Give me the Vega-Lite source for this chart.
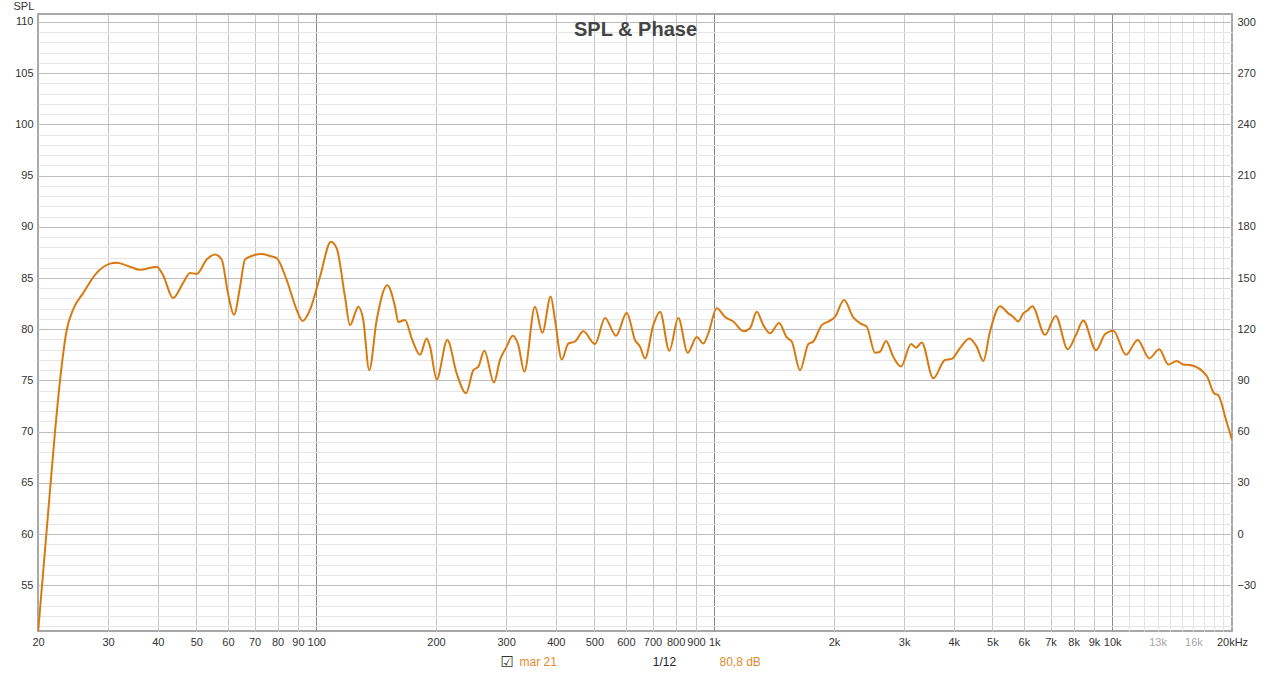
{
  "$schema": "https://vega.github.io/schema/vega-lite/v6.json",
  "width": 1194,
  "height": 617,
  "autosize": {"type": "none"},
  "padding": {"left": 38, "top": 14, "right": 48, "bottom": 43},
  "background": "white",
  "config": {
    "view": {"stroke": "#a8a8a8", "strokeWidth": 2},
    "axis": {"domain": false, "ticks": false, "labelFont": "Liberation Sans", "labelFontSize": 11, "labelColor": "#333333", "titleFont": "Liberation Sans", "titleFontWeight": "normal", "titleFontSize": 11, "gridWidth": 1}
  },
  "data": {"values": [
    {"f":20,"spl":50.3},{"f":20.23,"spl":52.6},{"f":21.2,"spl":62.0},{"f":22.07,"spl":70.0},{"f":22.72,"spl":75.0},{"f":23.61,"spl":79.9},{"f":24.49,"spl":81.9},{"f":25.95,"spl":83.5},{"f":28.09,"spl":85.5},{"f":30.33,"spl":86.4},{"f":31.52,"spl":86.5},{"f":34.05,"spl":86.1},{"f":36.08,"spl":85.8},{"f":39.74,"spl":86.1},{"f":41.22,"spl":85.3},{"f":43.68,"spl":83.05},{"f":46.28,"spl":84.5},{"f":48.19,"spl":85.5},{"f":50.09,"spl":85.4},{"f":53.07,"spl":86.8},{"f":55.68,"spl":87.3},{"f":57.88,"spl":86.8},{"f":60.03,"spl":83.5},{"f":62.15,"spl":81.4},{"f":64.35,"spl":84.1},{"f":66.23,"spl":86.8},{"f":68.85,"spl":87.15},{"f":72.96,"spl":87.35},{"f":76.54,"spl":87.15},{"f":79.56,"spl":86.95},{"f":84.32,"spl":84.8},{"f":89.34,"spl":81.9},{"f":92.5,"spl":80.8},{"f":96.49,"spl":81.9},{"f":102.2,"spl":85.1},{"f":108.9,"spl":88.55},{"f":112.6,"spl":87.9},{"f":118.1,"spl":83.2},{"f":121.6,"spl":80.4},{"f":127.6,"spl":82.2},{"f":131.3,"spl":80.9},{"f":135.9,"spl":76.0},{"f":141.9,"spl":80.9},{"f":150.9,"spl":84.3},{"f":157.8,"spl":82.2},{"f":160.8,"spl":80.7},{"f":167.2,"spl":80.9},{"f":173.8,"spl":79.1},{"f":182.3,"spl":77.5},{"f":189.5,"spl":79.1},{"f":193.2,"spl":78.3},{"f":200.8,"spl":75.1},{"f":213.5,"spl":78.95},{"f":225.4,"spl":75.7},{"f":237.9,"spl":73.75},{"f":248.2,"spl":76.0},{"f":255.5,"spl":76.35},{"f":264.5,"spl":77.9},{"f":279.7,"spl":74.8},{"f":289.6,"spl":77.0},{"f":301,"spl":78.3},{"f":311.7,"spl":79.35},{"f":322,"spl":78.45},{"f":333.4,"spl":75.85},{"f":354.6,"spl":82.2},{"f":370,"spl":79.65},{"f":388.4,"spl":83.2},{"f":398.2,"spl":80.9},{"f":414,"spl":77.05},{"f":430,"spl":78.6},{"f":447.1,"spl":78.8},{"f":469,"spl":79.8},{"f":501.9,"spl":78.55},{"f":531.7,"spl":81.1},{"f":566.7,"spl":79.35},{"f":602.9,"spl":81.6},{"f":632.5,"spl":78.95},{"f":651.1,"spl":78.3},{"f":670.2,"spl":77.15},{"f":703.2,"spl":80.4},{"f":731,"spl":81.7},{"f":771.4,"spl":77.9},{"f":812.6,"spl":81.1},{"f":858,"spl":77.7},{"f":903.9,"spl":79.25},{"f":939,"spl":78.6},{"f":966.6,"spl":79.6},{"f":1014.6,"spl":82.05},{"f":1064.6,"spl":81.2},{"f":1117,"spl":80.75},{"f":1183.6,"spl":79.8},{"f":1230.3,"spl":80.1},{"f":1279,"spl":81.7},{"f":1328.7,"spl":80.4},{"f":1381,"spl":79.6},{"f":1455.3,"spl":80.6},{"f":1521.6,"spl":79.2},{"f":1566.3,"spl":78.8},{"f":1643.3,"spl":76.0},{"f":1724,"spl":78.55},{"f":1774.6,"spl":78.8},{"f":1862.9,"spl":80.4},{"f":1935.4,"spl":80.75},{"f":2011.9,"spl":81.2},{"f":2119.4,"spl":82.85},{"f":2236.5,"spl":81.15},{"f":2348,"spl":80.5},{"f":2416.8,"spl":80.25},{"f":2535.7,"spl":77.7},{"f":2610,"spl":77.8},{"f":2702,"spl":78.85},{"f":2818.5,"spl":77.3},{"f":2947,"spl":76.35},{"f":3123,"spl":78.55},{"f":3214.6,"spl":78.2},{"f":3322,"spl":78.7},{"f":3552,"spl":75.2},{"f":3800,"spl":77.0},{"f":3950,"spl":77.1},{"f":4145,"spl":78.15},{"f":4374,"spl":79.1},{"f":4566,"spl":78.3},{"f":4744,"spl":76.9},{"f":4931,"spl":79.75},{"f":5225,"spl":82.25},{"f":5482,"spl":81.55},{"f":5643,"spl":81.2},{"f":5808,"spl":80.75},{"f":5979,"spl":81.55},{"f":6119,"spl":81.8},{"f":6298,"spl":82.25},{"f":6780,"spl":79.45},{"f":7212,"spl":81.3},{"f":7731,"spl":78.05},{"f":8111,"spl":79.45},{"f":8461,"spl":80.85},{"f":9105,"spl":77.95},{"f":9592,"spl":79.5},{"f":10064,"spl":79.85},{"f":10832,"spl":77.5},{"f":11589,"spl":78.95},{"f":12397,"spl":77.15},{"f":13134,"spl":78.05},{"f":13836,"spl":76.55},{"f":14526,"spl":76.9},{"f":15091,"spl":76.55},{"f":15686,"spl":76.5},{"f":17279,"spl":75.45},{"f":18025,"spl":73.75},{"f":18479,"spl":73.55},{"f":19320,"spl":71.15},{"f":20000,"spl":69.2}
  ]},
  "layer": [
    {
      "mark": {"type": "line", "opacity": 0},
      "encoding": {
        "x": {"field": "f", "type": "quantitative", "scale": {"type": "log", "domain": [20, 20000], "nice": false},
          "axis": {"orient": "bottom", "values": [11000,12000,13000,14000,15000,16000,17000,18000,19000], "grid": true, "gridColor": "#e2e2e2", "labels": false,
            "title": "☑", "titleFont": "DejaVu Sans", "titleFontSize": 15, "titleColor": "#333333", "titleX": 462, "titleY": 30, "titleAlign": "left", "titleBaseline": "middle", "titleAngle": 0}},
        "y": {"field": "spl", "type": "quantitative", "scale": {"domain": [50.53, 110.78], "nice": false, "zero": false},
          "axis": {"orient": "left", "values": [51,52,53,54,55,56,57,58,59,60,61,62,63,64,65,66,67,68,69,70,71,72,73,74,75,76,77,78,79,80,81,82,83,84,85,86,87,88,89,90,91,92,93,94,95,96,97,98,99,100,101,102,103,104,105,106,107,108,109,110], "grid": true, "gridColor": "#e6e6e6", "labels": false, "title": null}}
      }
    },
    {
      "mark": {"type": "line", "opacity": 0},
      "encoding": {
        "x": {"field": "f", "type": "quantitative", "scale": {"type": "log", "domain": [20, 20000], "nice": false},
          "axis": {"orient": "bottom", "values": [30,40,50,60,70,80,90,200,300,400,500,600,700,800,900,2000,3000,4000,5000,6000,7000,8000,9000], "grid": true, "gridColor": "#c6c6c6", "labels": false,
            "title": "mar 21", "titleColor": "#e08a2c", "titleFontSize": 12, "titleX": 481, "titleY": 30, "titleAlign": "left", "titleBaseline": "middle"}},
        "y": {"field": "spl", "type": "quantitative", "scale": {"domain": [50.53, 110.78], "nice": false, "zero": false},
          "axis": {"orient": "left", "values": [55,60,65,70,75,80,85,90,95,100,105,110], "grid": true, "gridColor": "#bdbdbd", "labels": true, "labelPadding": 5,
            "title": "SPL", "titleAngle": 0, "titleX": -25, "titleY": -8, "titleAlign": "left", "titleBaseline": "middle", "titleColor": "#333333"}}
      }
    },
    {
      "mark": {"type": "line", "opacity": 0},
      "encoding": {
        "x": {"field": "f", "type": "quantitative", "scale": {"type": "log", "domain": [20, 20000], "nice": false},
          "axis": {"orient": "bottom", "values": [100, 1000, 10000], "grid": true, "gridColor": "#8c8c8c", "labels": false,
            "title": "1/12", "titleColor": "#222222", "titleFontSize": 12, "titleX": 626, "titleY": 30, "titleAlign": "center", "titleBaseline": "middle"}},
        "y": {"field": "spl", "type": "quantitative", "scale": {"domain": [50.53, 110.78], "nice": false, "zero": false}, "axis": null}
      }
    },
    {
      "data": {"values": [{"phase": 0}]},
      "mark": {"type": "point", "opacity": 0},
      "encoding": {
        "y": {"field": "phase", "type": "quantitative", "scale": {"domain": [-56.8, 304.7], "nice": false, "zero": false},
          "axis": {"orient": "right", "values": [-30,0,30,60,90,120,150,180,210,240,270,300], "grid": false, "labelPadding": 5, "title": null}}
      }
    },
    {
      "mark": {"type": "line", "opacity": 0},
      "encoding": {
        "x": {"field": "f", "type": "quantitative", "scale": {"type": "log", "domain": [20, 20000], "nice": false},
          "axis": {"orient": "bottom", "values": [20,30,40,50,60,70,80,90,100,200,300,400,500,600,700,800,900,1000,2000,3000,4000,5000,6000,7000,8000,9000,10000,13000,16000,20000],
            "grid": false, "labelPadding": 5, "labelFlush": false, "labelOverlap": false, "labelBound": false,
            "labelExpr": "datum.value >= 20000 ? '20kHz' : datum.value >= 1000 ? (datum.value / 1000) + 'k' : datum.value + ''",
            "labelColor": {"condition": {"test": "datum.value == 13000 || datum.value == 16000", "value": "#a6a6a6"}, "value": "#333333"},
            "title": "80,8 dB", "titleColor": "#e08a2c", "titleFontSize": 12, "titleX": 681, "titleY": 30, "titleAlign": "left", "titleBaseline": "middle"}},
        "y": {"field": "spl", "type": "quantitative", "scale": {"domain": [50.53, 110.78], "nice": false, "zero": false}, "axis": null}
      }
    },
    {
      "mark": {"type": "line", "interpolate": "monotone", "color": "#d97a11", "strokeWidth": 2, "clip": true},
      "encoding": {
        "x": {"field": "f", "type": "quantitative", "scale": {"type": "log", "domain": [20, 20000], "nice": false},
          "axis": {"orient": "top", "labels": false, "grid": false,
            "title": "SPL & Phase", "titleFontSize": 20, "titleFontWeight": "bold", "titleColor": "#444444", "titleX": 597, "titleY": 15, "titleAlign": "center", "titleBaseline": "middle"}},
        "y": {"field": "spl", "type": "quantitative", "scale": {"domain": [50.53, 110.78], "nice": false, "zero": false}, "axis": null}
      }
    }
  ],
  "resolve": {"scale": {"y": "independent"}, "axis": {"x": "independent", "y": "independent"}}
}
